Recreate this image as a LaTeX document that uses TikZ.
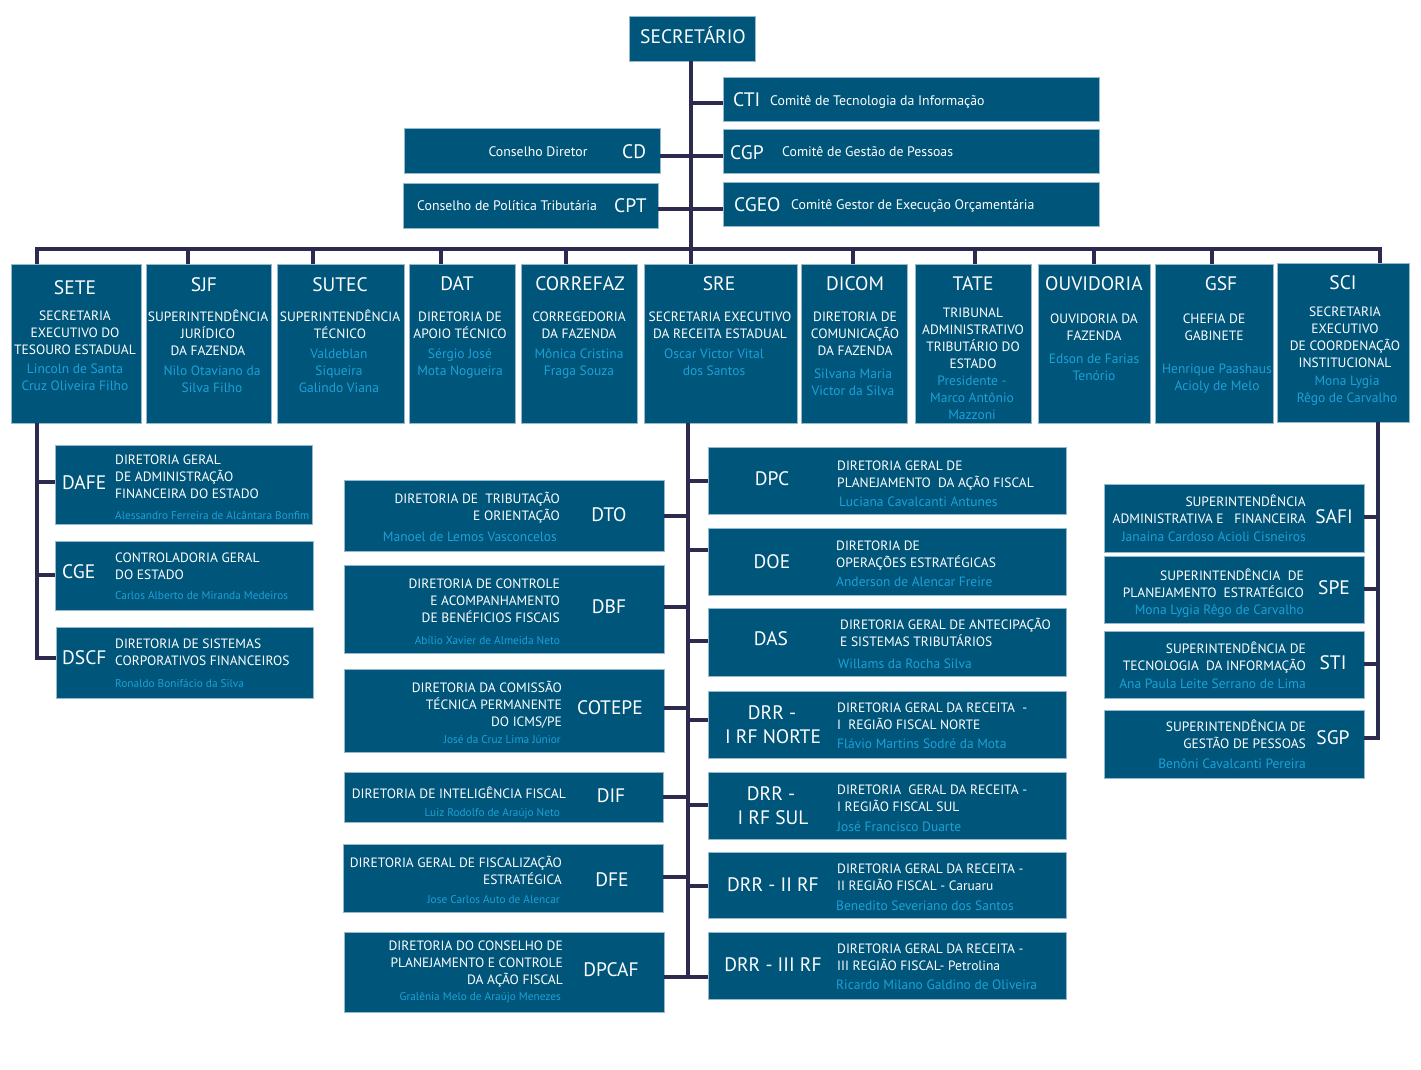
\documentclass[tikz,border=0pt]{standalone}
\usepackage{fontspec}
\setmainfont{PT Sans}
\definecolor{boxfill}{RGB}{0,86,122}
\definecolor{boxedge}{RGB}{150,185,205}
\definecolor{namec}{RGB}{30,160,215}
\definecolor{linec}{RGB}{45,42,80}
\tikzset{
 orgbox/.style={draw=boxedge, line width=0.8pt, fill=boxfill, inner sep=0pt, rectangle},
 conn/.style={draw=linec, line width=3.5pt},
 txt/.style={inner sep=0pt, yshift=-3.5pt},
 abtext/.style={txt, text=white, font=\fontsize{19.5}{22}\selectfont},
 dstext/.style={txt, text=white, font=\fontsize{13.5}{17}\selectfont},
 nmtext/.style={txt, text=namec, font=\fontsize{13.5}{17}\selectfont},
 nmstext/.style={txt, text=namec, font=\fontsize{11.3}{13}\selectfont},
 comtext/.style={txt, text=white, font=\fontsize{13.8}{16}\selectfont},
}
\newcommand\mybox[5]{\node[orgbox, minimum width={(#4-#2)*1pt}, minimum height={(#5-#3)*1pt}] (#1) at ({(#2+#4)/2},{(#3+#5)/2}) {};}
\newcommand\txl[6]{\foreach \lbl [count=\i from 0] in {#6}{\node[#5, anchor=#4] (#1-\i) at ({#2},{#3+17*\i}) {\lbl};}}
\begin{document}
\begin{tikzpicture}[x=1pt,y=-1pt]
\fill[white] (0,0) rectangle (1421,1070);
\useasboundingbox (0,0) rectangle (1421,1070);

% ---------- top ----------
\mybox{sec}{629}{16}{755}{61}
\node[abtext, anchor=mid] (sec-a) at (693,38) {SECRETÁRIO};

\mybox{cti}{723}{77}{1099}{121}
\mybox{cgp}{723}{129}{1099}{173}
\mybox{cgeo}{723}{182}{1099}{226}
\mybox{cd}{404}{128}{660}{173}
\mybox{cpt}{403}{183}{658}{228}
\node[abtext, anchor=mid west] (cti-a) at (733,101) {CTI};
\node[comtext, anchor=mid west] (cti-t) at (770,100) {Comitê de Tecnologia da Informação};
\node[abtext, anchor=mid west] (cgp-a) at (730,153) {CGP};
\node[comtext, anchor=mid west] (cgp-t) at (782,151) {Comitê de Gestão de Pessoas};
\node[abtext, anchor=mid west] (cgeo-a) at (734,205) {CGEO};
\node[comtext, anchor=mid west] (cgeo-t) at (791,203) {Comitê Gestor de Execução Orçamentária};
\node[comtext, anchor=mid] (cd-t) at (538,151) {Conselho Diretor};
\node[abtext, anchor=mid west] (cd-a) at (622,152) {CD};
\node[comtext, anchor=mid west] (cpt-t) at (417,204) {Conselho de Política Tributária};
\node[abtext, anchor=mid west] (cpt-a) at (614,206) {CPT};

\coordinate (barM) at (691,249);
\coordinate (sCTI) at (691,103);
\coordinate (sCD) at (691,156);
\coordinate (sCPT) at (691,209);
\draw[conn] (sec.south -| barM) -- (barM);
\draw[conn] (sCTI) -- (sCTI -| cti.west);
\draw[conn] (sCD -| cd.east) -- (sCD -| cgp.west);
\draw[conn] (sCPT -| cpt.east) -- (sCPT -| cgeo.west);

% ---------- top row ----------
\mybox{sete}{11}{264}{141}{423}
\mybox{sjf}{146}{264}{271}{423}
\mybox{sutec}{277}{264}{404}{423}
\mybox{dat}{409}{264}{515}{423}
\mybox{corr}{521}{264}{637}{423}
\mybox{sre}{644}{264}{797}{423}
\mybox{dicom}{801}{264}{907}{423}
\mybox{tate}{915}{264}{1031}{423}
\mybox{ouv}{1038}{264}{1150}{423}
\mybox{gsf}{1155}{264}{1273}{423}
\mybox{sci}{1277}{263}{1409}{422}

\coordinate (barL) at (37,249);
\coordinate (barR) at (1380,249);
\draw[conn] (barL |- sete.north) -- (barL) -- (barR) -- (barR |- sci.north);
\foreach \n/\x in {sjf/188,sutec/313,dat/441,corr/566,sre/691,dicom/853,tate/975,ouv/1094,gsf/1212}{
  \coordinate (b\n) at (\x,249);
  \draw[conn] (b\n) -- (b\n |- \n.north);}

\node[abtext, anchor=mid] (sete-a) at (75,288) {SETE};
\txl{sete-d}{75}{314}{mid}{dstext}{SECRETARIA,EXECUTIVO DO,TESOURO ESTADUAL}
\txl{sete-n}{75}{367}{mid}{nmtext}{Lincoln de Santa,Cruz Oliveira Filho}
\node[abtext, anchor=mid] (sjf-a) at (204,285) {SJF};
\txl{sjf-d}{208}{315}{mid}{dstext}{SUPERINTENDÊNCIA,JURÍDICO,DA FAZENDA}
\txl{sjf-n}{212}{369}{mid}{nmtext}{Nilo Otaviano da,Silva Filho}
\node[abtext, anchor=mid] (sutec-a) at (340,285) {SUTEC};
\txl{sutec-d}{340}{315}{mid}{dstext}{SUPERINTENDÊNCIA,TÉCNICO}
\txl{sutec-n}{339}{352}{mid}{nmtext}{Valdeblan,Siqueira,Galindo Viana}
\node[abtext, anchor=mid] (dat-a) at (457,284) {DAT};
\txl{dat-d}{460}{315}{mid}{dstext}{DIRETORIA DE,APOIO TÉCNICO}
\txl{dat-n}{460}{352}{mid}{nmtext}{Sérgio José,Mota Nogueira}
\node[abtext, anchor=mid] (corr-a) at (580,284) {CORREFAZ};
\txl{corr-d}{579}{315}{mid}{dstext}{CORREGEDORIA,DA FAZENDA}
\txl{corr-n}{579}{352}{mid}{nmtext}{Mônica Cristina,Fraga Souza}
\node[abtext, anchor=mid] (sre-a) at (719,284) {SRE};
\txl{sre-d}{720}{315}{mid}{dstext}{SECRETARIA EXECUTIVO,DA RECEITA ESTADUAL}
\txl{sre-n}{714}{352}{mid}{nmtext}{Oscar Victor Vital,dos Santos}
\node[abtext, anchor=mid] (dicom-a) at (855,284) {DICOM};
\txl{dicom-d}{855}{315}{mid}{dstext}{DIRETORIA DE,COMUNICAÇÃO,DA FAZENDA}
\txl{dicom-n}{853}{372}{mid}{nmtext}{Silvana Maria,Victor da Silva}
\node[abtext, anchor=mid] (tate-a) at (973,284) {TATE};
\txl{tate-d}{973}{311}{mid}{dstext}{TRIBUNAL,ADMINISTRATIVO,TRIBUTÁRIO DO,ESTADO}
\txl{tate-n}{972}{379}{mid}{nmtext}{Presidente -,Marco Antônio,Mazzoni}
\node[abtext, anchor=mid] (ouv-a) at (1094,284) {OUVIDORIA};
\txl{ouv-d}{1094}{317}{mid}{dstext}{OUVIDORIA DA,FAZENDA}
\txl{ouv-n}{1094}{357}{mid}{nmtext}{Edson de Farias,Tenório}
\node[abtext, anchor=mid] (gsf-a) at (1221,284) {GSF};
\txl{gsf-d}{1214}{317}{mid}{dstext}{CHEFIA DE,GABINETE}
\txl{gsf-n}{1217}{367}{mid}{nmtext}{Henrique Paashaus,Acioly de Melo}
\node[abtext, anchor=mid] (sci-a) at (1343,283) {SCI};
\txl{sci-d}{1345}{310}{mid}{dstext}{SECRETARIA,EXECUTIVO,DE COORDENAÇÃO,INSTITUCIONAL}
\txl{sci-n}{1347}{379}{mid}{nmtext}{Mona Lygia,Rêgo de Carvalho}

% ---------- left column ----------
\mybox{dafe}{55}{445}{312}{524}
\mybox{cge}{55}{541}{313}{610}
\mybox{dscf}{56}{627}{313}{698}
\coordinate (sDAFE) at (37,482);
\coordinate (sCGE) at (37,575);
\coordinate (sDSCF) at (37,658);
\draw[conn] (barL |- sete.south) -- (sDSCF) -- (sDSCF -| dscf.west);
\draw[conn] (sDAFE) -- (sDAFE -| dafe.west);
\draw[conn] (sCGE) -- (sCGE -| cge.west);
\node[abtext, anchor=mid west] (dafe-a) at (62,483) {DAFE};
\txl{dafe-d}{115}{458}{mid west}{dstext}{DIRETORIA GERAL,DE ADMINISTRAÇÃO,FINANCEIRA DO ESTADO}
\node[nmstext, anchor=mid west] (dafe-n) at (115,513) {Alessandro Ferreira de Alcântara Bonfim};
\node[abtext, anchor=mid west] (cge-a) at (62,572) {CGE};
\txl{cge-d}{115}{556}{mid west}{dstext}{CONTROLADORIA GERAL,DO ESTADO}
\node[nmstext, anchor=mid west] (cge-n) at (115,593) {Carlos Alberto de Miranda Medeiros};
\node[abtext, anchor=mid west] (dscf-a) at (62,658) {DSCF};
\txl{dscf-d}{115}{642}{mid west}{dstext}{DIRETORIA DE SISTEMAS,CORPORATIVOS FINANCEIROS}
\node[nmstext, anchor=mid west] (dscf-n) at (115,681) {Ronaldo Bonifácio da Silva};

% ---------- SRE column, left ----------
\mybox{dto}{344}{480}{664}{551}
\mybox{dbf}{344}{565}{664}{653}
\mybox{cotepe}{344}{669}{664}{752}
\mybox{dif}{344}{772}{663}{822}
\mybox{dfe}{343}{844}{663}{912}
\mybox{dpcaf}{344}{932}{664}{1012}

\node[abtext, anchor=mid] (dto-a) at (609,515) {DTO};
\txl{dto-d}{560}{497}{mid east}{dstext}{DIRETORIA DE \ TRIBUTAÇÃO,E ORIENTAÇÃO}
\node[nmtext, anchor=mid east] (dto-n) at (557,535) {Manoel de Lemos Vasconcelos};
\node[abtext, anchor=mid] (dbf-a) at (609,607) {DBF};
\txl{dbf-d}{560}{582}{mid east}{dstext}{DIRETORIA DE CONTROLE,E ACOMPANHAMENTO,DE BENÉFICIOS FISCAIS}
\node[nmstext, anchor=mid east] (dbf-n) at (560,638) {Abílio Xavier de Almeida Neto};
\node[abtext, anchor=mid] (cotepe-a) at (610,708) {COTEPE};
\txl{cotepe-d}{562}{686}{mid east}{dstext}{DIRETORIA DA COMISSÃO,TÉCNICA PERMANENTE,DO ICMS/PE}
\node[nmstext, anchor=mid east] (cotepe-n) at (561,737) {José da Cruz Lima Júnior};
\node[abtext, anchor=mid] (dif-a) at (611,796) {DIF};
\txl{dif-d}{566}{792}{mid east}{dstext}{DIRETORIA DE INTELIGÊNCIA FISCAL}
\node[nmstext, anchor=mid east] (dif-n) at (560,810) {Luiz Rodolfo de Araújo Neto};
\node[abtext, anchor=mid] (dfe-a) at (612,880) {DFE};
\txl{dfe-d}{562}{861}{mid east}{dstext}{DIRETORIA GERAL DE FISCALIZAÇÃO,ESTRATÉGICA}
\node[nmstext, anchor=mid east] (dfe-n) at (560,897) {Jose Carlos Auto de Alencar};
\node[abtext, anchor=mid] (dpcaf-a) at (611,970) {DPCAF};
\txl{dpcaf-d}{563}{944}{mid east}{dstext}{DIRETORIA DO CONSELHO DE,PLANEJAMENTO E CONTROLE,DA AÇÃO FISCAL}
\node[nmstext, anchor=mid east] (dpcaf-n) at (561,994) {Gralênia Melo de Araújo Menezes};

% ---------- SRE column, right ----------
\mybox{dpc}{708}{447}{1066}{514}
\mybox{doe}{708}{528}{1066}{595}
\mybox{das}{708}{608}{1066}{676}
\mybox{drra}{708}{691}{1066}{758}
\mybox{drrb}{708}{772}{1066}{839}
\mybox{drrc}{708}{852}{1066}{918}
\mybox{drrd}{708}{932}{1066}{999}

\node[abtext, anchor=mid] (dpc-a) at (772,479) {DPC};
\txl{dpc-d}{837}{464}{mid west}{dstext}{DIRETORIA GERAL DE,PLANEJAMENTO \ DA AÇÃO FISCAL}
\node[nmtext, anchor=mid west] (dpc-n) at (839,500) {Luciana Cavalcanti Antunes};
\node[abtext, anchor=mid] (doe-a) at (772,562) {DOE};
\txl{doe-d}{836}{544}{mid west}{dstext}{DIRETORIA DE,OPERAÇÕES ESTRATÉGICAS}
\node[nmtext, anchor=mid west] (doe-n) at (836,580) {Anderson de Alencar Freire};
\node[abtext, anchor=mid] (das-a) at (771,639) {DAS};
\txl{das-d}{840}{623}{mid west}{dstext}{DIRETORIA GERAL DE ANTECIPAÇÃO,E SISTEMAS TRIBUTÁRIOS}
\node[nmtext, anchor=mid west] (das-n) at (838,662) {Willams da Rocha Silva};
\node[abtext, anchor=mid] (drra-a) at (772,713) {DRR -};
\node[abtext, anchor=mid] (drra-b) at (773,737) {I RF NORTE};
\txl{drra-d}{837}{706}{mid west}{dstext}{DIRETORIA GERAL DA RECEITA \ -,I \ REGIÃO FISCAL NORTE}
\node[nmtext, anchor=mid west] (drra-n) at (837,742) {Flávio Martins Sodré da Mota};
\node[abtext, anchor=mid] (drrb-a) at (771,794) {DRR -};
\node[abtext, anchor=mid] (drrb-b) at (773,818) {I RF SUL};
\txl{drrb-d}{837}{788}{mid west}{dstext}{DIRETORIA \ GERAL DA RECEITA -,I REGIÃO FISCAL SUL}
\node[nmtext, anchor=mid west] (drrb-n) at (837,825) {José Francisco Duarte};
\node[abtext, anchor=mid] (drrc-a) at (773,885) {DRR - II RF};
\txl{drrc-d}{837}{867}{mid west}{dstext}{DIRETORIA GERAL DA RECEITA -,II REGIÃO FISCAL - Caruaru}
\node[nmtext, anchor=mid west] (drrc-n) at (836,904) {Benedito Severiano dos Santos};
\node[abtext, anchor=mid] (drrd-a) at (773,965) {DRR - III RF};
\txl{drrd-d}{837}{947}{mid west}{dstext}{DIRETORIA GERAL DA RECEITA -,III REGIÃO FISCAL- Petrolina}
\node[nmtext, anchor=mid west] (drrd-n) at (836,983) {Ricardo Milano Galdino de Oliveira};

\coordinate (tk) at (688,977);
\draw[conn] (sre.south -| tk) -- (tk);
\foreach \n/\y in {dto/516,dbf/607,cotepe/708,dif/797,dfe/877,dpcaf/977}{
  \coordinate (s\n) at (688,\y);
  \draw[conn] (s\n) -- (s\n -| \n.east);}
\foreach \n/\y in {dpc/481,doe/550,das/641,drra/720,drrb/805,drrc/886,drrd/977}{
  \coordinate (s\n) at (688,\y);
  \draw[conn] (s\n) -- (s\n -| \n.west);}

% ---------- right column ----------
\mybox{safi}{1104}{484}{1364}{552}
\mybox{spe}{1104}{556}{1364}{623}
\mybox{sti}{1104}{631}{1364}{698}
\mybox{sgp}{1104}{710}{1364}{778}
\coordinate (rv) at (1378,738);
\draw[conn] (sci.south -| rv) -- (rv) -- (rv -| sgp.east);
\foreach \n/\y in {safi/517,spe/589,sti/664}{
  \coordinate (s\n) at (1378,\y);
  \draw[conn] (s\n) -- (s\n -| \n.east);}

\node[abtext, anchor=mid] (safi-a) at (1334,517) {SAFI};
\txl{safi-d}{1306}{500}{mid east}{dstext}{SUPERINTENDÊNCIA,ADMINISTRATIVA E \ \ FINANCEIRA}
\node[nmtext, anchor=mid east] (safi-n) at (1306,535) {Janaína Cardoso Acioli Cisneiros};
\node[abtext, anchor=mid] (spe-a) at (1334,588) {SPE};
\txl{spe-d}{1304}{574}{mid east}{dstext}{SUPERINTENDÊNCIA \ DE,PLANEJAMENTO \ ESTRATÉGICO}
\node[nmtext, anchor=mid east] (spe-n) at (1304,608) {Mona Lygia Rêgo de Carvalho};
\node[abtext, anchor=mid] (sti-a) at (1333,663) {STI};
\txl{sti-d}{1306}{647}{mid east}{dstext}{SUPERINTENDÊNCIA DE,TECNOLOGIA \ DA INFORMAÇÃO}
\node[nmtext, anchor=mid east] (sti-n) at (1306,682) {Ana Paula Leite Serrano de Lima};
\node[abtext, anchor=mid] (sgp-a) at (1333,738) {SGP};
\txl{sgp-d}{1306}{725}{mid east}{dstext}{SUPERINTENDÊNCIA DE,GESTÃO DE PESSOAS}
\node[nmtext, anchor=mid east] (sgp-n) at (1306,762) {Benôni Cavalcanti Pereira};
\end{tikzpicture}
\end{document}
